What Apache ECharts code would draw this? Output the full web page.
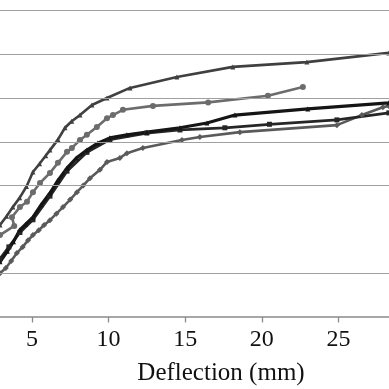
<!DOCTYPE html>
<html>
<head>
<meta charset="utf-8">
<script src="https://cdn.jsdelivr.net/npm/echarts@6/dist/echarts.min.js"></script>
<style>html,body{margin:0;padding:0;background:#fff;}#c{width:389px;height:389px;}</style>
</head>
<body>
<div id="c"></div>
<script>
// Deflection (mm) vs load (relative units, gridline = 1)
const curveA = [[2.5,1.9],[2.92,2.10],[3.35,2.30],[3.76,2.51],[4.2,2.72],[4.65,2.98],[5.07,3.31],[5.5,3.50],[5.9,3.68],[6.18,3.81],[6.7,4.05],[7.16,4.32],[7.6,4.47],[8.14,4.61],[8.92,4.84],[9.90,5.00],[11.40,5.23],[14.46,5.48],[18.11,5.71],[22.94,5.82],[28.29,6.03],[29,6.06]];
const curveB = [[2.5,1.80],[2.92,1.87],[3.85,2.08],[3.70,2.28],[4.22,2.51],[4.68,2.63],[5.07,2.85],[5.53,3.06],[6.18,3.29],[6.70,3.52],[7.29,3.77],[7.61,3.86],[8.14,4.04],[8.59,4.16],[9.24,4.34],[9.90,4.54],[10.29,4.61],[10.94,4.73],[12.90,4.82],[16.5,4.90],[20.40,5.05],[22.68,5.25]];
const curveC = [[2.5,1.15],[2.92,1.26],[3.4,1.50],[3.8,1.72],[4.22,1.99],[4.6,2.12],[5.07,2.28],[5.6,2.56],[6.18,2.83],[6.7,3.12],[7.29,3.40],[7.9,3.63],[8.59,3.81],[9.3,3.97],[10.09,4.09],[11.2,4.16],[12.50,4.22],[14.66,4.32],[16.42,4.43],[18.25,4.61],[23.0,4.75],[28.29,4.89],[29,4.91]];
const curveD = [[2.5,1.2],[2.92,1.33],[3.5,1.6],[4.22,1.93],[5.07,2.22],[6.18,2.76],[7.29,3.33],[8.59,3.76],[10.09,4.05],[12.50,4.20],[14.66,4.27],[17.59,4.32],[20.5,4.40],[24.90,4.50],[28.29,4.66],[29,4.69]];
const curveE = [[2.5,0.88],[2.92,1.00],[3.3,1.12],[3.65,1.28],[4.02,1.46],[4.4,1.60],[4.75,1.75],[5.07,1.87],[5.45,1.98],[5.8,2.10],[6.18,2.21],[6.6,2.36],[7.03,2.51],[7.5,2.68],[7.94,2.85],[8.35,3.00],[8.79,3.17],[9.44,3.36],[9.90,3.54],[10.74,3.63],[11.20,3.74],[12.24,3.86],[14.79,4.04],[15.96,4.11],[18.57,4.22],[24.90,4.38],[26.53,4.61],[27.90,4.79],[28.29,4.82],[29,4.86]];
const gridValues = [1,3,4,5,6,7];
const xTicks = [5,10,15,20,25];

const chart = echarts.init(document.getElementById('c'), null, {renderer:'canvas'});
function mk(name, data, color, symbol, size, width){
  return {name, type:'line', data, symbol, symbolSize:size, showSymbol:true,
    lineStyle:{color, width}, itemStyle:{color}, z:3, animation:false};
}
chart.setOption({
  animation:false,
  backgroundColor:'#fff',
  grid:{left:0, right:0, top:6.02, bottom:65.87, containLabel:false, outerBoundsMode:'none'},
  xAxis:{type:'value', min:2.92, max:28.3,
    axisLine:{show:false},
    axisTick:{show:false},
    splitLine:{show:false},
    axisLabel:{margin:5, fontFamily:'Liberation Serif', fontSize:24, color:'#111', customValues:xTicks,
      hideOverlap:false},
    name:'Deflection (mm)', nameLocation:'middle', nameGap:38,
    nameTextStyle:{fontFamily:'Liberation Serif', fontSize:25, color:'#111', padding:[0,0,0,53]}},
  yAxis:{type:'value', min:-0.14, max:7.1, show:true,
    axisLine:{show:false}, axisTick:{show:false}, axisLabel:{show:false}, splitLine:{show:false}},
  series:[
    {type:'line', data:[], silent:true, z:1,
      markLine:{silent:true, symbol:'none', label:{show:false},
        lineStyle:{color:'#a0a0a0', width:1.2, type:'solid'},
        data:gridValues.map(v=>({yAxis:v})).concat([
          {yAxis:0.001, lineStyle:{color:'#8a8a8a', width:1.5}}
        ]).concat(xTicks.map(v=>[{coord:[v,0.001], lineStyle:{color:'#8a8a8a', width:1.3}},{coord:[v,-0.125]}]))}},
    mk('A', curveA, '#404040', 'triangle', 5, 2.6),
    mk('B', curveB, '#6c6c6c', 'circle', 6, 2.6),
    mk('E', curveE, '#5a5a5a', 'diamond', 6, 2.6),
    mk('D', curveD, '#262626', 'rect', 5, 2.8),
    mk('C', curveC, '#151515', 'triangle', 5, 3.2)
  ]
});
</script>
</body>
</html>
